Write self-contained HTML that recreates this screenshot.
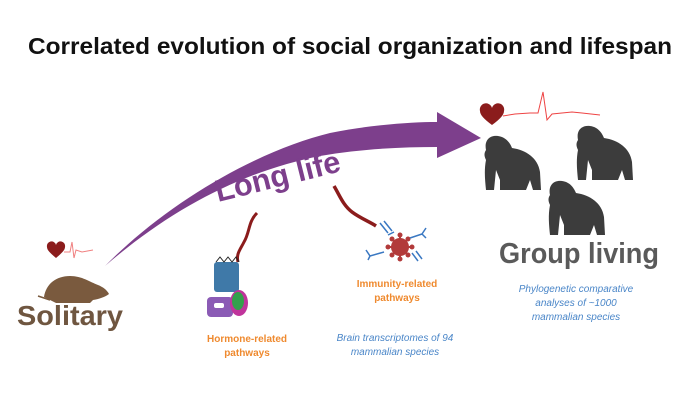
<!DOCTYPE html>
<html><head><meta charset="utf-8"><style>
html,body{margin:0;padding:0;background:#fff;}
svg{display:block;font-family:"Liberation Sans",sans-serif;}
</style></head><body>
<svg width="700" height="400" viewBox="0 0 700 400" xmlns="http://www.w3.org/2000/svg">
<rect width="700" height="400" fill="#fff"/>
<text x="28" y="54" font-size="23" font-weight="bold" fill="#111" textLength="644" lengthAdjust="spacingAndGlyphs">Correlated evolution of social organization and lifespan</text>

<!-- big arrow -->
<path d="M105,266 C170,200 260,150 330,133 C370,125 410,122 437,122 L437,112 L481,138 L437,158 L437,147 C400,147 360,149 320,156 C240,172 170,210 105,266 Z" fill="#7d3f8c"/>
<text x="0" y="0" font-size="31" font-weight="bold" fill="#7d3f8c" transform="translate(218,202) rotate(-14)" textLength="128" lengthAdjust="spacingAndGlyphs">Long life</text>

<!-- squiggles -->
<path d="M257,213 C248,222 250,232 244,242 C240,250 236,254 238,262" stroke="#8b1c1c" stroke-width="3" fill="none"/>
<path d="M334,186 C340,196 343,205 352,212 C360,218 370,222 376,226" stroke="#8b1c1c" stroke-width="3.5" fill="none"/>

<!-- small heart & ecg left -->
<path d="M56,258 c-6,-5 -9,-8 -9,-11 a3.5,3.5 0 0 1 9,-2 a3.5,3.5 0 0 1 9,2 c0,3 -3,6 -9,11z" fill="#8b1c1c"/>
<path d="M64,252 L70,252 L72,242 L74,258 L76,250 L82,252 L93,250" stroke="#f08080" stroke-width="1" fill="none"/>
<!-- vole -->
<path d="M44,297 C46,284 56,276 70,276 C82,276 90,282 98,285 C103,287 107,290 109,294 C105,297 99,299 93,300 L90,303 L56,303 L50,300 Z" fill="#7a5a3e"/>
<path d="M50,300 L38,296" stroke="#7a5a3e" stroke-width="1.5"/>
<text x="17" y="325" font-size="28" font-weight="bold" fill="#6f5640" textLength="106" lengthAdjust="spacingAndGlyphs">Solitary</text>

<!-- hormone receptor -->
<rect x="214" y="262" width="25" height="30" rx="3" fill="#3f79a8"/>
<path d="M216,262 l4,-5 l4,5 l4,-5 l4,5 l4,-5 l3,5" stroke="#222" stroke-width="1" fill="none"/>
<rect x="207" y="297" width="26" height="20" rx="4" fill="#8b5bb5"/>
<rect x="214" y="303" width="10" height="5" rx="2" fill="#fff"/>
<ellipse cx="239" cy="303" rx="9" ry="13" fill="#c0349b"/>
<ellipse cx="238" cy="301" rx="6" ry="9" fill="#33a04c"/>
<text x="247" y="342" font-size="10" font-weight="bold" fill="#ef8a2f" text-anchor="middle">Hormone-related</text>
<text x="247" y="356" font-size="10" font-weight="bold" fill="#ef8a2f" text-anchor="middle">pathways</text>

<!-- virus & antibodies -->
<g stroke="#b23a3a" stroke-width="2">
<line x1="400" y1="235" x2="400" y2="259"/><line x1="388" y1="247" x2="412" y2="247"/>
<line x1="392" y1="239" x2="408" y2="255"/><line x1="392" y1="255" x2="408" y2="239"/>
</g>
<circle cx="400" cy="247" r="9" fill="#b23a3a"/>
<g fill="#b23a3a"><circle cx="400" cy="235" r="2.5"/><circle cx="400" cy="259" r="2.5"/><circle cx="388" cy="247" r="2.5"/><circle cx="412" cy="247" r="2.5"/><circle cx="392" cy="239" r="2.5"/><circle cx="408" cy="255" r="2.5"/><circle cx="392" cy="255" r="2.5"/><circle cx="408" cy="239" r="2.5"/></g>
<g stroke="#3a78c2" stroke-width="1.5" fill="none">
<path d="M380,223 l8,10 M384,221 l8,10 M388,235 l6,-3"/>
<path d="M410,238 l12,-4 M422,234 l4,-6 M422,234 l4,4"/>
<path d="M366,250 l4,6 l14,-4 M370,256 l-2,4"/>
<path d="M412,253 l6,8 M416,251 l6,8"/>
</g>
<text x="397" y="287" font-size="10" font-weight="bold" fill="#ef8a2f" text-anchor="middle">Immunity-related</text>
<text x="397" y="301" font-size="10" font-weight="bold" fill="#ef8a2f" text-anchor="middle">pathways</text>

<text x="395" y="341" font-size="10" font-style="italic" fill="#4a86c8" text-anchor="middle">Brain transcriptomes of 94</text>
<text x="395" y="355" font-size="10" font-style="italic" fill="#4a86c8" text-anchor="middle">mammalian species</text>

<!-- heart ecg right -->
<path d="M492,125 c-8,-6 -12,-10 -12,-14 a5,5 0 0 1 12,-3 a5,5 0 0 1 12,3 c0,4 -4,8 -12,14z" fill="#8b1c1c"/>
<path d="M503,116 L515,114 L530,113 L538,113 L543,92 L547,120 L552,114 L572,112 L582,113 L600,115" stroke="#ee4444" stroke-width="1" fill="none"/>

<!-- gorillas -->
<defs>
<path id="g" d="M486,150 C484,140 490,135 498,136 C506,137 510,143 512,148 C526,150 538,158 540,172 L541,190 L533,190 L530,180 L526,190 L500,190 L500,180 L496,170 L494,190 L486,190 C485,180 484,170 486,160 C484,156 484,153 486,150 Z"/>
</defs>
<g fill="#3c3c3c">
<use href="#g"/>
<use href="#g" transform="translate(92,-10)"/>
<use href="#g" transform="translate(64,45)"/>
</g>

<text x="499" y="263" font-size="29" font-weight="bold" fill="#5a5a5a" textLength="160" lengthAdjust="spacingAndGlyphs">Group living</text>
<text x="576" y="292" font-size="10" font-style="italic" fill="#4a86c8" text-anchor="middle">Phylogenetic comparative</text>
<text x="576" y="306" font-size="10" font-style="italic" fill="#4a86c8" text-anchor="middle">analyses of ~1000</text>
<text x="576" y="320" font-size="10" font-style="italic" fill="#4a86c8" text-anchor="middle">mammalian species</text>
</svg>
</body></html>
